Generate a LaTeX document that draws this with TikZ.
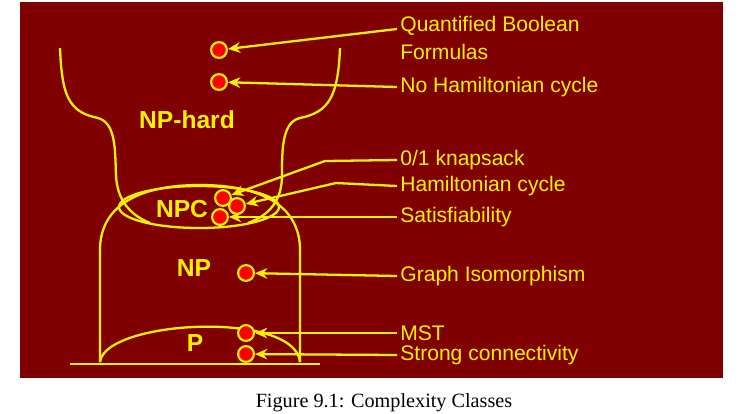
\documentclass[tikz,border=0pt]{standalone}
\usepackage{fontspec}
\usetikzlibrary{arrows.meta}
\setmainfont{Liberation Serif}
\newfontfamily\arialf{Liberation Sans}
\begin{document}
\begin{tikzpicture}[x=0.02cm,y=-0.02cm,
  curve/.style={draw=yellow,line width=1.3pt},
  dot/.style={circle,draw=yellow,fill=red,line width=1.2pt,inner sep=0pt,minimum size=9pt},
  lbl/.style={text=yellow,font=\arialf\fontsize{12}{14}\selectfont,anchor=west,inner sep=0pt},
  cls/.style={text=yellow,font=\arialf\bfseries\fontsize{14}{16}\selectfont},
  arr/.style={draw=yellow,line width=1.3pt,-{Stealth[length=7pt,width=6pt]}}]
\useasboundingbox (0,0) rectangle (743,413);
\fill[fill={rgb,255:red,128;green,0;blue,0}] (20,2) rectangle (723,378);
% NP-hard
\draw[curve] (60,48) .. controls (62,95) and (68,112) .. (98,118) .. controls (116,123) and (115,150) .. (116,175) .. controls (117,200) and (130,215) .. (150,223);
\draw[curve] (340,48) .. controls (338,95) and (330,112) .. (300,118) .. controls (282,122) and (282,150) .. (282,175) .. controls (282,200) and (270,215) .. (248,223);
% NPC ellipse
\draw[curve] (199,207) ellipse [x radius=80,y radius=21];
% NP dome
\draw[curve] (100,362) -- (100,250) .. controls (100,205) and (140,185) .. (200,185) .. controls (260,185) and (300,205) .. (300,250) -- (300,362);
% P
\draw[curve] (100,362) .. controls (105,320) and (295,310) .. (300,362);
\draw[curve] (70,364) -- (320,364);
% class labels
\node[cls] (nphard) at (187,120) {NP-hard};
\node[cls] (npc) at (182,209) {NPC};
\node[cls] (np) at (194,268) {NP};
\node[cls] (p) at (195,343) {P};
% dots
\node[dot] (d1) at (219,50) {};
\node[dot] (d2) at (219,82) {};
\node[dot] (d3) at (223,198) {};
\node[dot] (d4) at (237,206) {};
\node[dot] (d5) at (220,217) {};
\node[dot] (d6) at (246,273) {};
\node[dot] (d7) at (246,333) {};
\node[dot] (d8) at (246,354) {};
% labels
\node[lbl] (l1) at (400,26) {Quantified Boolean};
\node[lbl] (l1b) at (400,52) {Formulas};
\node[lbl] (l2) at (400,87) {No Hamiltonian cycle};
\node[lbl] (l3) at (400,160) {0/1 knapsack};
\node[lbl] (l4) at (400,186) {Hamiltonian cycle};
\node[lbl] (l5) at (400,217) {Satisfiability};
\node[lbl] (l6) at (400,276) {Graph Isomorphism};
\node[lbl] (l7) at (400,333) {MST};
\node[lbl] (l8) at (400,355) {Strong connectivity};
% arrows
\coordinate (c3) at (325,161);
\coordinate (c4) at (336,183);
\draw[arr] (397,29) -- (d1);
\draw[arr] (l2.west) ++(-3,0) -- (d2);
\draw[arr] (l3.west) ++(-3,0) -- (c3) -- (d3);
\draw[arr] (l4.west) ++(-3,0) -- (c4) -- (d4);
\draw[arr] (l5.west) ++(-3,0) -- (d5);
\draw[arr] (l6.west) ++(-3,0) -- (d6);
\draw[arr] (l7.west) ++(-3,0) -- (d7);
\draw[arr] (l8.west) ++(-3,0) -- (d8);
\node[font=\fontsize{11.5}{13}\selectfont] (cap) at (384,403) {Figure 9.1: Complexity Classes};
\end{tikzpicture}
\end{document}
